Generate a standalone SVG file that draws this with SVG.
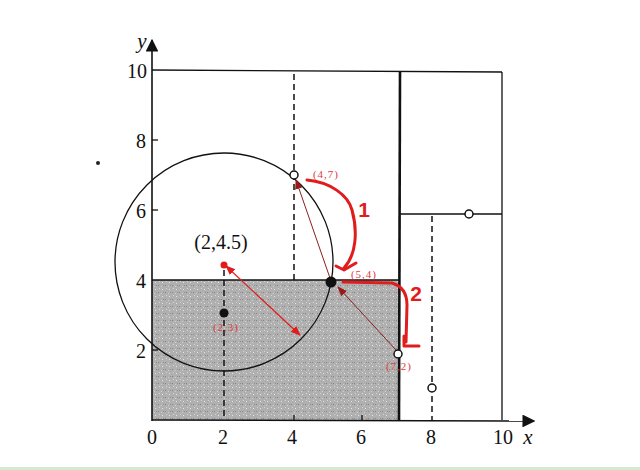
<svg xmlns="http://www.w3.org/2000/svg" width="640" height="470" viewBox="0 0 640 470">
<defs>
<style>
.ax{stroke:#111;stroke-width:1.6;fill:none}
.ln{stroke:#111;stroke-width:1.3;fill:none}
.dash{stroke:#111;stroke-width:1.5;stroke-dasharray:6,4;fill:none}
.num{font-size:20px;fill:#111;text-anchor:middle}
.it{font-size:21px;font-style:italic;fill:#111;text-anchor:middle}
.rl{font-size:11px;fill:#e03a3a;text-anchor:middle;letter-spacing:1px}
.hand{font-family:"Liberation Sans","DejaVu Sans",sans-serif;font-size:21px;font-weight:bold;fill:#e01c1c;text-anchor:middle}
.red{stroke:#e01c1c;stroke-width:3;fill:none;stroke-linecap:round;stroke-linejoin:round}
.thin{stroke:#8a1f1f;stroke-width:1;fill:none}
.open{fill:#fff;stroke:#111;stroke-width:1.5}
</style>
<marker id="ah" viewBox="0 0 10 10" refX="9" refY="5" markerWidth="8" markerHeight="8" orient="auto"><path d="M0,0 L10,5 L0,10 z" fill="#111"/></marker>
<marker id="dr" viewBox="0 0 10 10" refX="9" refY="5" markerWidth="10" markerHeight="10" orient="auto" markerUnits="userSpaceOnUse"><path d="M0,1 L10,5 L0,9 z" fill="#9a1a1a"/></marker>
<marker id="rr" viewBox="0 0 10 10" refX="9" refY="5" markerWidth="10" markerHeight="10" orient="auto-start-reverse" markerUnits="userSpaceOnUse"><path d="M0,1 L10,5 L0,9 z" fill="#e01c1c"/></marker>
<pattern id="grain" width="7" height="7" patternUnits="userSpaceOnUse">
<rect width="7" height="7" fill="#b0b0b0"/>
<rect x="1" y="2" width="1" height="1" fill="#e6e6e6"/>
<rect x="4" y="5" width="1" height="1" fill="#858585"/>
<rect x="5" y="1" width="1" height="1" fill="#d6d6d6"/>
<rect x="2" y="5" width="1" height="1" fill="#909090"/>
<rect x="0" y="6" width="1" height="1" fill="#d0d0d0"/>
</pattern>
</defs>
<rect width="640" height="470" fill="#fff"/>
<rect x="0" y="467" width="640" height="3" fill="#d3ebcf"/>

<g id="region">
<rect x="152" y="280" width="246" height="140" fill="url(#grain)"/>
<line x1="152" y1="280" x2="400" y2="280" class="ln"/>
</g>

<g id="axes" font-family="Liberation Serif, Times New Roman, DejaVu Serif, serif">
<line x1="152" y1="421" x2="152" y2="40" class="ax" marker-end="url(#ah)"/>
<line x1="152" y1="420" x2="534" y2="421" class="ax" marker-end="url(#ah)"/>
<line x1="152" y1="140" x2="158" y2="140" class="ln"/>
<line x1="152" y1="210" x2="158" y2="210" class="ln"/>
<line x1="152" y1="350" x2="158" y2="350" class="ln"/>
<line x1="294" y1="420" x2="294" y2="415" class="ln"/>
<line x1="362" y1="420" x2="362" y2="415" class="ln"/>
<text x="142" y="48" class="it">y</text>
<text x="137" y="78" class="num">10</text>
<text x="141" y="148" class="num">8</text>
<text x="141" y="218" class="num">6</text>
<text x="141" y="288" class="num">4</text>
<text x="141" y="358" class="num">2</text>
<text x="152" y="444" class="num">0</text>
<text x="223" y="444" class="num">2</text>
<text x="292" y="444" class="num">4</text>
<text x="361" y="444" class="num">6</text>
<text x="431" y="444" class="num">8</text>
<text x="503" y="444" class="num">10</text>
<text x="528" y="444" class="it">x</text>
</g>

<g id="partition">
<line x1="152" y1="70" x2="502" y2="72" class="ln"/>
<line x1="502" y1="72" x2="502" y2="420" class="ln"/>
<line x1="400" y1="72" x2="399" y2="420" stroke="#111" stroke-width="2.6"/>
<line x1="400" y1="214" x2="502" y2="214" class="ln"/>
<line x1="294" y1="74" x2="294" y2="280" class="dash"/>
<line x1="224" y1="270" x2="224" y2="420" class="dash"/>
<line x1="432" y1="216" x2="432" y2="420" class="dash"/>
</g>

<g id="circle">
<circle cx="224" cy="262" r="109" class="ln" stroke-width="1.6"/>
</g>

<g id="connectors">
<line x1="331" y1="281" x2="296" y2="180" class="thin" marker-end="url(#dr)"/>
<line x1="396" y1="350" x2="338" y2="287" class="thin" marker-end="url(#dr)"/>
<line x1="226" y1="266" x2="300" y2="335" stroke="#e01c1c" stroke-width="1.2" marker-start="url(#rr)" marker-end="url(#rr)"/>
<path d="M307,180 C330,182 348,195 352,210 C358,232 356,255 344,268" class="red"/>
<path d="M336,266 L344,270 L356,263" class="red" stroke-width="2.6"/>
<path d="M343,282 L392,283 C402,286 407,293 407,305 L406,342" class="red"/>
<path d="M404,336 L404,346 L419,346" class="red" stroke-width="2.6"/>
<text x="364" y="217" class="hand">1</text>
<text x="416" y="301" class="hand">2</text>
</g>

<g id="points">
<circle cx="294" cy="175" r="4" class="open"/>
<circle cx="331" cy="282" r="5.5" fill="#111"/>
<circle cx="224" cy="313" r="4.5" fill="#111"/>
<circle cx="398" cy="354" r="4" class="open"/>
<circle cx="432" cy="388" r="4" class="open"/>
<circle cx="469" cy="214" r="4" class="open"/>
<circle cx="224" cy="265" r="3.5" fill="#e01c1c"/>
<circle cx="98" cy="163" r="2" fill="#222"/>
</g>

<g id="labels" font-family="Liberation Serif, Times New Roman, DejaVu Serif, serif">
<text x="221" y="249" class="num" font-size="18">(2,4.5)</text>
<text x="326" y="178" class="rl">(4,7)</text>
<text x="364" y="278" class="rl">(5,4)</text>
<text x="226" y="331" class="rl">(2,3)</text>
<text x="399" y="370" class="rl">(7,2)</text>
</g>
</svg>
